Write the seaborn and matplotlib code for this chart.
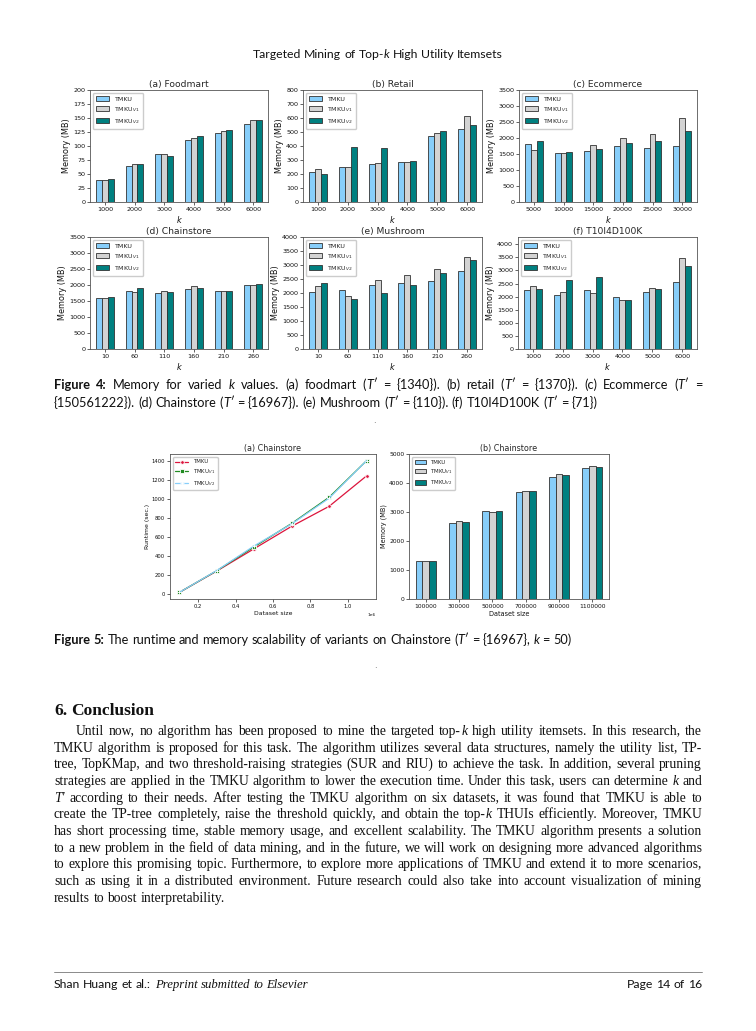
import numpy as np
import pandas as pd
import matplotlib
matplotlib.use("Agg")
import matplotlib.pyplot as plt
from matplotlib.lines import Line2D
from matplotlib.backends.backend_agg import get_hinting_flag
import seaborn as sns

# ---------------- data ----------------
VARIANTS = ["TMKU", "TMKU$_{V1}$", "TMKU$_{V2}$"]
BAR_COLORS = ["#87CEFA", "#D3D3D3", "#008080"]
LINE_COLORS = ["#DC143C", "#228B22", "#87CEFA"]

k_foodmart = [1000, 2000, 3000, 4000, 5000, 6000]
foodmart_tmku = [39, 64, 86, 110, 123, 140]
foodmart_v1 = [40, 68, 85, 115, 127, 146]
foodmart_v2 = [41, 67, 82, 118, 129, 147]

k_retail = [1000, 2000, 3000, 4000, 5000, 6000]
retail_tmku = [217, 250, 273, 287, 474, 520]
retail_v1 = [236, 250, 281, 284, 490, 617]
retail_v2 = [197, 390, 388, 290, 510, 550]

k_ecommerce = [5000, 10000, 15000, 20000, 25000, 30000]
ecommerce_tmku = [1800, 1540, 1580, 1750, 1700, 1750]
ecommerce_v1 = [1610, 1530, 1770, 2000, 2130, 2620]
ecommerce_v2 = [1900, 1560, 1660, 1830, 1900, 2210]

k_chainstore = [10, 60, 110, 160, 210, 260]
chainstore_tmku = [1600, 1800, 1750, 1880, 1800, 2010]
chainstore_v1 = [1600, 1780, 1800, 1980, 1800, 2010]
chainstore_v2 = [1610, 1910, 1790, 1900, 1810, 2030]

k_mushroom = [10, 60, 110, 160, 210, 260]
mushroom_tmku = [2050, 2100, 2270, 2340, 2440, 2790]
mushroom_v1 = [2250, 1880, 2470, 2630, 2850, 3280]
mushroom_v2 = [2340, 1800, 2000, 2270, 2730, 3180]

k_t10 = [1000, 2000, 3000, 4000, 5000, 6000]
t10_tmku = [2270, 2070, 2270, 1990, 2170, 2560]
t10_v1 = [2390, 2190, 2130, 1880, 2350, 3460]
t10_v2 = [2310, 2650, 2740, 1890, 2290, 3170]

dataset_size = [100000, 300000, 500000, 700000, 900000, 1100000]
runtime_tmku = [20, 245, 480, 715, 925, 1245]
runtime_v1 = [20, 248, 500, 745, 1020, 1405]
runtime_v2 = [20, 250, 510, 740, 1010, 1405]
scal_mem_tmku = [1300, 2610, 3020, 3700, 4210, 4520]
scal_mem_v1 = [1310, 2690, 3010, 3720, 4300, 4570]
scal_mem_v2 = [1300, 2650, 3030, 3710, 4280, 4560]

# ---------------- style ----------------
sns.set_theme(style="ticks")
plt.rcParams.update({
    "font.family": ["DejaVu Sans"],
    "axes.edgecolor": "#555555",
    "axes.linewidth": 0.6,
    "xtick.major.size": 2.0,
    "ytick.major.size": 2.0,
    "xtick.major.width": 0.5,
    "ytick.major.width": 0.5,
    "xtick.major.pad": 1.5,
    "ytick.major.pad": 1.5,
    "xtick.color": "#222222",
    "ytick.color": "#222222",
    "xtick.labelcolor": "#111111",
    "ytick.labelcolor": "#111111",
    "axes.labelcolor": "#111111",
    "axes.labelpad": 1.5,
})

W, H = 756, 1031
fig = plt.figure(figsize=(W / 100, H / 100), dpi=100)
fig.patch.set_facecolor("white")


def box(x0, y0, x1, y1):
    return [x0 / W, 1 - y1 / H, (x1 - x0) / W, (y1 - y0) / H]


def bar_panel(rect, title, cats, s1, s2, s3, ymax, ystep, xlabel, fs):
    ax = fig.add_axes(box(*rect))
    n = len(cats)
    df = pd.DataFrame({
        "x": [str(c) for c in cats] * 3,
        "mem": list(s1) + list(s2) + list(s3),
        "variant": [VARIANTS[0]] * n + [VARIANTS[1]] * n + [VARIANTS[2]] * n,
    })
    sns.barplot(data=df, x="x", y="mem", hue="variant", hue_order=VARIANTS,
                palette=BAR_COLORS, width=0.6, edgecolor="#333333",
                linewidth=0.6, saturation=1, errorbar=None, ax=ax)
    ax.set_ylim(0, ymax)
    ax.set_yticks(np.arange(0, ymax + 1, ystep))
    ax.set_title(title, fontsize=fs["title"], pad=2)
    ax.set_xlabel(xlabel, fontsize=fs["label"])
    ax.set_ylabel("Memory (MB)", fontsize=fs["label"])
    ax.tick_params(labelsize=fs["tick"])
    h, l = ax.get_legend_handles_labels()
    ax.legend(h, l, loc="upper left", fontsize=fs["leg"], frameon=True,
              handlelength=2.0, handleheight=0.8, borderpad=0.5,
              labelspacing=0.45, edgecolor="#cccccc", framealpha=1)
    return ax


FS4 = {"title": 6.6, "label": 5.9, "tick": 4.6, "leg": 4.6}
bar_panel((90, 90, 268, 202), "(a) Foodmart", k_foodmart, foodmart_tmku, foodmart_v1, foodmart_v2, 200, 25, "$k$", FS4)
bar_panel((303, 90, 482, 202), "(b) Retail", k_retail, retail_tmku, retail_v1, retail_v2, 800, 100, "$k$", FS4)
bar_panel((519, 90, 697, 202), "(c) Ecommerce", k_ecommerce, ecommerce_tmku, ecommerce_v1, ecommerce_v2, 3500, 500, "$k$", FS4)
bar_panel((90, 237, 268, 349), "(d) Chainstore", k_chainstore, chainstore_tmku, chainstore_v1, chainstore_v2, 3500, 500, "$k$", FS4)
bar_panel((303, 237, 482, 349), "(e) Mushroom", k_mushroom, mushroom_tmku, mushroom_v1, mushroom_v2, 4000, 500, "$k$", FS4)
axf = bar_panel((518, 237, 697, 349), "(f) T10I4D100K", k_t10, t10_tmku, t10_v1, t10_v2, 4000, 500, "$k$", FS4)
axf.set_ylim(0, 4280)

# Figure 5 (a) line chart
ax5a = fig.add_axes(box(170, 454, 376, 599))
markers = ["o", "s", "+"]
for lab, ys, col, mk in zip(VARIANTS, [runtime_tmku, runtime_v1, runtime_v2], LINE_COLORS, markers):
    sns.lineplot(x=dataset_size, y=ys, color=col, marker=mk, markersize=2.6,
                 markeredgewidth=0.6, linewidth=0.9, label=lab, ax=ax5a)
ax5a.set_title("(a) Chainstore", fontsize=5.8, pad=2)
ax5a.set_xlabel("Dataset size", fontsize=4.4)
ax5a.set_ylabel("Runtime (sec.)", fontsize=4.4)
ax5a.tick_params(labelsize=3.8)
ax5a.xaxis.get_offset_text().set_fontsize(3.2)
ax5a.legend(loc="upper left", fontsize=3.9, frameon=True, handlelength=2.4,
            borderpad=0.5, labelspacing=0.5, edgecolor="#cccccc", framealpha=1)

FS5 = {"title": 5.8, "label": 4.7, "tick": 4.3, "leg": 4.0}
bar_panel((409, 454, 609, 599), "(b) Chainstore", dataset_size, scal_mem_tmku, scal_mem_v1, scal_mem_v2, 5000, 1000, "Dataset size", FS5)

# ---------------- page text ----------------
renderer = fig.canvas.get_renderer()
SANS = "Lato"
SERIF = "Liberation Serif"


def fam_for(txt, base):
    if all(ord(c) < 128 for c in txt):
        return base
    return [base, "DejaVu Sans" if base == SANS else "DejaVu Serif"]


def snap_baseline(t, ybase_px):
    """Keep all words of a line on one pixel baseline despite Agg rounding."""
    try:
        font = renderer._prepare_font(t.get_fontproperties())
        font.set_text(t.get_text(), 0.0, flags=get_hinting_flag())
        w, h = font.get_width_height()
        d = font.get_descent()
        T = int(round(ybase_px))
        K = T + (h // 64) - ((h - d) // 64)
        Y = K - d / 64.0
        t.set_y(1 - Y / H)
    except Exception:
        t.set_y(1 - ybase_px / H)


def parse(line):
    words = []
    ital = bold = False
    for tok in line.split(" "):
        runs, cur = [], ""
        for ch in tok:
            if ch in "*#":
                if cur:
                    runs.append((cur, ital, bold))
                    cur = ""
                if ch == "*":
                    ital = not ital
                else:
                    bold = not bold
            else:
                cur += ch
        if cur:
            runs.append((cur, ital, bold))
        words.append(runs)
    return words


def adv_width(s, size, family, style="normal", weight="normal"):
    def w(txt):
        t = fig.text(0, 0, txt, fontsize=size, family=fam_for(txt, family),
                     style=style, weight=weight)
        v = t.get_window_extent(renderer).width
        t.remove()
        return v
    return w("|" + s + "|") - w("||")


def place_line(line, x0, ybase, size, family, x1=None, justify=False, align="left"):
    words = parse(line)
    arts, widths = [], []
    for runs in words:
        wa, ww = [], 0.0
        for txt, it, bd in runs:
            st = "italic" if it else "normal"
            wt = "bold" if bd else "normal"
            t = fig.text(0, 1 - ybase / H, txt, fontsize=size,
                         family=fam_for(txt, family), style=st, weight=wt,
                         va="baseline", ha="left", color="#111111")
            snap_baseline(t, ybase)
            w = adv_width(txt, size, family, st, wt)
            wa.append((t, w))
            ww += w
        arts.append(wa)
        widths.append(ww)
    sp = adv_width(" ", size, family)
    if justify and len(words) > 1:
        gap = (x1 - x0 - sum(widths)) / (len(words) - 1)
    else:
        gap = sp
    total = sum(widths) + gap * (len(words) - 1)
    if align == "center":
        x0 = x0 - total / 2
    elif align == "right":
        x0 = x0 - total
    x = x0
    for wa, ww in zip(arts, widths):
        xx = x
        for t, w in wa:
            t.set_x(xx / W)
            xx += w
        x += ww + gap
    return x0 + total


LX, RX = 54, 702

place_line("Targeted Mining of Top-*k* High Utility Itemsets", 378, 58, 8.8, SANS, align="center")

place_line("#Figure 4:# Memory for varied *k* values. (a) foodmart (*T′* = {1340}). (b) retail (*T′* = {1370}). (c) Ecommerce (*T′* =",
           LX, 389, 9.2, SANS, x1=RX, justify=True)
place_line("{150561222}). (d) Chainstore (*T′* = {16967}). (e) Mushroom (*T′* = {110}). (f) T10I4D100K (*T′* = {71})",
           LX, 407, 9.2, SANS)
fig.text(373 / W, 1 - 423 / H, ".", fontsize=6, color="#555555", va="baseline")

place_line("#Figure 5:# The runtime and memory scalability of variants on Chainstore (*T′* = {16967}, *k* = 50)",
           LX, 644, 9.2, SANS)
fig.text(374 / W, 1 - 668 / H, ".", fontsize=6, color="#555555", va="baseline")

place_line("#6. Conclusion#", LX, 715, 12.5, SERIF)

body = [
    "Until now, no algorithm has been proposed to mine the targeted top-*k* high utility itemsets. In this research, the",
    "TMKU algorithm is proposed for this task. The algorithm utilizes several data structures, namely the utility list, TP-",
    "tree, TopKMap, and two threshold-raising strategies (SUR and RIU) to achieve the task. In addition, several pruning",
    "strategies are applied in the TMKU algorithm to lower the execution time. Under this task, users can determine *k* and",
    "*T′* according to their needs. After testing the TMKU algorithm on six datasets, it was found that TMKU is able to",
    "create the TP-tree completely, raise the threshold quickly, and obtain the top-*k* THUIs efficiently. Moreover, TMKU",
    "has short processing time, stable memory usage, and excellent scalability. The TMKU algorithm presents a solution",
    "to a new problem in the field of data mining, and in the future, we will work on designing more advanced algorithms",
    "to explore this promising topic. Furthermore, to explore more applications of TMKU and extend it to more scenarios,",
    "such as using it in a distributed environment. Future research could also take into account visualization of mining",
    "results to boost interpretability.",
]
for i, ln in enumerate(body):
    y = 735 + 16.65 * i
    x0 = 76 if i == 0 else LX
    last = i == len(body) - 1
    place_line(ln, x0, y, 9.85, SERIF, x1=RX, justify=not last)

fig.add_artist(Line2D([LX / W, RX / W], [1 - 972 / H, 1 - 972 / H], color="#777777", linewidth=0.6))
xe = place_line("Shan Huang et al.:", LX, 988, 8.8, SANS)
place_line("*Preprint submitted to Elsevier*", xe + 4, 988, 9.2, SERIF)
place_line("Page 14 of 16", RX, 988, 8.8, SANS, align="right")

fig.savefig("out.png", dpi=100, facecolor="white")
